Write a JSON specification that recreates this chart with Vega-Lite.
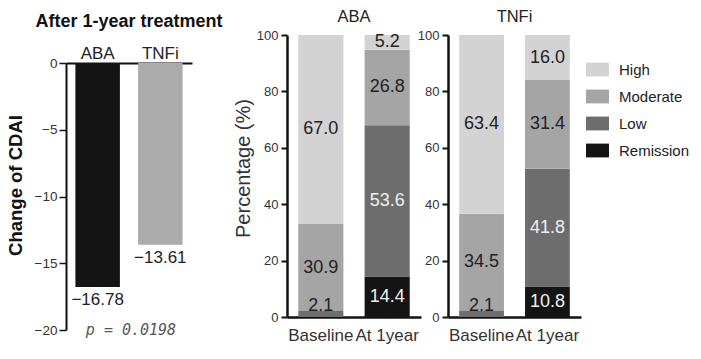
{
  "$schema": "https://vega.github.io/schema/vega-lite/v6.json",
  "padding": {"left": 6, "top": 8, "right": 5, "bottom": 5},
  "bounds": "flush",
  "spacing": 27,
  "config": {
    "view": {"stroke": null},
    "font": "Liberation Sans",
    "axis": {"grid": false, "labelColor": "#333", "domainColor": "#111", "tickColor": "#111"},
    "title": {"color": "#222", "font": "Liberation Sans"},
    "legend": {"symbolOpacity": 1}
  },
  "datasets": {
    "cdai": [
      {"drug": "ABA", "change": -16.78},
      {"drug": "TNFi", "change": -13.61}
    ],
    "dist": [
      {"group": "ABA", "time": "Baseline", "level": "Low", "ord": 2, "value": 2.1},
      {"group": "ABA", "time": "Baseline", "level": "Moderate", "ord": 3, "value": 30.9},
      {"group": "ABA", "time": "Baseline", "level": "High", "ord": 4, "value": 67.0},
      {"group": "ABA", "time": "At 1year", "level": "Remission", "ord": 1, "value": 14.4},
      {"group": "ABA", "time": "At 1year", "level": "Low", "ord": 2, "value": 53.6},
      {"group": "ABA", "time": "At 1year", "level": "Moderate", "ord": 3, "value": 26.8},
      {"group": "ABA", "time": "At 1year", "level": "High", "ord": 4, "value": 5.2},
      {"group": "TNFi", "time": "Baseline", "level": "Low", "ord": 2, "value": 2.1},
      {"group": "TNFi", "time": "Baseline", "level": "Moderate", "ord": 3, "value": 34.5},
      {"group": "TNFi", "time": "Baseline", "level": "High", "ord": 4, "value": 63.4},
      {"group": "TNFi", "time": "At 1year", "level": "Remission", "ord": 1, "value": 10.8},
      {"group": "TNFi", "time": "At 1year", "level": "Low", "ord": 2, "value": 41.8},
      {"group": "TNFi", "time": "At 1year", "level": "Moderate", "ord": 3, "value": 31.4},
      {"group": "TNFi", "time": "At 1year", "level": "High", "ord": 4, "value": 16.0}
    ],
    "ptext": [{"p": "p = 0.0198"}],
    "blank": [{"a": 1}]
  },
  "resolve": {"scale": {"x": "independent", "y": "independent", "color": "independent"}},
  "hconcat": [
    {
      "width": 126,
      "height": 295,
      "title": {"text": "After 1-year treatment", "fontSize": 18, "fontWeight": "bold", "offset": 4, "color": "#111"},
      "layer": [
        {
          "data": {"name": "cdai"},
          "mark": {"type": "bar"},
          "encoding": {
            "x": {"field": "drug", "type": "nominal", "sort": ["ABA", "TNFi"], "scale": {"paddingInner": 0.29, "paddingOuter": 0.15},
              "axis": {"orient": "top", "offset": -28, "title": null, "labelAngle": 0, "ticks": false, "domainWidth": 2, "labelFontSize": 17, "labelPadding": 1, "labelColor": "#222"}},
            "y": {"field": "change", "type": "quantitative", "scale": {"domain": [-20, 0], "range": [295, 28], "nice": false},
              "axis": {"values": [0, -5, -10, -15, -20], "title": "Change of CDAI", "titleFontSize": 18.5, "titleFontWeight": "bold", "titleColor": "#111", "titlePadding": 9, "titleY": 150, "labelFontSize": 13.5, "tickSize": 7, "tickWidth": 1.5, "labelPadding": 2, "domainWidth": 2}},
            "color": {"condition": {"test": "datum.drug === 'ABA'", "value": "#141414"}, "value": "#ababab"}
          }
        },
        {
          "data": {"name": "cdai"},
          "mark": {"type": "text", "baseline": "middle", "dy": 13, "fontSize": 17, "color": "#222"},
          "encoding": {
            "x": {"field": "drug", "type": "nominal", "sort": ["ABA", "TNFi"]},
            "y": {"field": "change", "type": "quantitative"},
            "text": {"field": "change", "type": "quantitative", "format": ".2f"}
          }
        },
        {
          "data": {"name": "ptext"},
          "mark": {"type": "text", "baseline": "middle", "dx": 2, "font": "DejaVu Sans Mono", "fontStyle": "italic", "fontSize": 15, "color": "#555"},
          "encoding": {
            "y": {"datum": -20, "type": "quantitative"},
            "text": {"field": "p", "type": "nominal"}
          }
        }
      ]
    },
    {
      "width": 41,
      "height": 10,
      "data": {"name": "blank"},
      "mark": {"type": "text", "text": ""},
      "encoding": {}
    },
    {
      "width": 134,
      "height": 282,
      "title": {"text": "ABA", "fontSize": 16.5, "fontWeight": "normal", "offset": 4, "color": "#222"},
      "data": {"name": "dist"},
      "transform": [{"filter": "datum.group === 'ABA'"}],
      "layer": [
        {
          "mark": {"type": "bar"},
          "encoding": {
            "x": {"field": "time", "type": "nominal", "sort": ["Baseline", "At 1year"], "scale": {"paddingInner": 0.32, "paddingOuter": 0.17},
              "axis": {"title": null, "labelAngle": 0, "ticks": false, "domainWidth": 2.5, "labelFontSize": 17, "labelPadding": 10, "labelColor": "#333"}},
            "y": {"field": "value", "type": "quantitative", "stack": "zero", "scale": {"domain": [0, 100], "nice": false},
              "axis": {"values": [0, 20, 40, 60, 80, 100], "title": "Percentage (%)", "titleFontSize": 20, "titleFontWeight": "normal", "titleColor": "#333", "titlePadding": 3, "titleY": 133, "labelFontSize": 13, "tickSize": 6, "tickWidth": 2, "domainWidth": 2.5, "labelPadding": 3}},
            "color": {"field": "level", "type": "nominal", "scale": {"domain": ["High", "Moderate", "Low", "Remission"], "range": ["#d3d3d3", "#a5a5a5", "#6d6d6d", "#141414"]}, "legend": null},
            "order": {"field": "ord", "type": "quantitative", "sort": "ascending"}
          }
        },
        {
          "transform": [
            {"stack": "value", "groupby": ["time"], "sort": [{"field": "ord", "order": "ascending"}], "as": ["y0", "y1"]},
            {"calculate": "datum.value < 3 ? datum.y0 + 4 : (datum.y0 + datum.y1) / 2", "as": "mid"}
          ],
          "mark": {"type": "text", "fontSize": 18, "baseline": "middle"},
          "encoding": {
            "x": {"field": "time", "type": "nominal", "sort": ["Baseline", "At 1year"]},
            "y": {"field": "mid", "type": "quantitative",
              "axis": {"values": [0, 20, 40, 60, 80, 100], "title": "Percentage (%)", "titleFontSize": 20, "titleFontWeight": "normal", "titleColor": "#333", "titlePadding": 3, "titleY": 133, "labelFontSize": 13, "tickSize": 6, "tickWidth": 2, "domainWidth": 2.5, "labelPadding": 3}},
            "text": {"field": "value", "type": "quantitative", "format": ".1f"},
            "color": {"condition": {"test": "datum.level === 'Remission' || (datum.level === 'Low' && datum.value > 5)", "value": "#f0f0f0"}, "value": "#222"}
          }
        }
      ]
    },
    {
      "width": 133,
      "height": 282,
      "title": {"text": "TNFi", "fontSize": 16.5, "fontWeight": "normal", "offset": 4, "color": "#222"},
      "data": {"name": "dist"},
      "transform": [{"filter": "datum.group === 'TNFi'"}],
      "layer": [
        {
          "mark": {"type": "bar"},
          "encoding": {
            "x": {"field": "time", "type": "nominal", "sort": ["Baseline", "At 1year"], "scale": {"paddingInner": 0.32, "paddingOuter": 0.17},
              "axis": {"title": null, "labelAngle": 0, "ticks": false, "domainWidth": 2.5, "labelFontSize": 17, "labelPadding": 10, "labelColor": "#333"}},
            "y": {"field": "value", "type": "quantitative", "stack": "zero", "scale": {"domain": [0, 100], "nice": false},
              "axis": {"values": [0, 20, 40, 60, 80, 100], "title": null, "labelFontSize": 13, "tickSize": 6, "tickWidth": 2, "domainWidth": 2.5, "labelPadding": 3}},
            "color": {"field": "level", "type": "nominal", "scale": {"domain": ["High", "Moderate", "Low", "Remission"], "range": ["#d3d3d3", "#a5a5a5", "#6d6d6d", "#141414"]},
              "legend": {"orient": "none", "legendX": 138, "legendY": 23, "title": null, "labelFontSize": 15, "labelColor": "#222", "symbolType": "M-1,-0.6H1V0.6H-1Z", "symbolSize": 529, "symbolStrokeWidth": 0, "rowPadding": 7, "labelOffset": 10}},
            "order": {"field": "ord", "type": "quantitative", "sort": "ascending"}
          }
        },
        {
          "transform": [
            {"stack": "value", "groupby": ["time"], "sort": [{"field": "ord", "order": "ascending"}], "as": ["y0", "y1"]},
            {"calculate": "datum.value < 3 ? datum.y0 + 4 : (datum.y0 + datum.y1) / 2", "as": "mid"}
          ],
          "mark": {"type": "text", "fontSize": 18, "baseline": "middle"},
          "encoding": {
            "x": {"field": "time", "type": "nominal", "sort": ["Baseline", "At 1year"]},
            "y": {"field": "mid", "type": "quantitative",
              "axis": {"values": [0, 20, 40, 60, 80, 100], "title": null, "labelFontSize": 13, "tickSize": 6, "tickWidth": 2, "domainWidth": 2.5, "labelPadding": 3}},
            "text": {"field": "value", "type": "quantitative", "format": ".1f"},
            "color": {"condition": {"test": "datum.level === 'Remission' || (datum.level === 'Low' && datum.value > 5)", "value": "#f0f0f0"}, "value": "#222"}
          }
        }
      ]
    }
  ]
}
